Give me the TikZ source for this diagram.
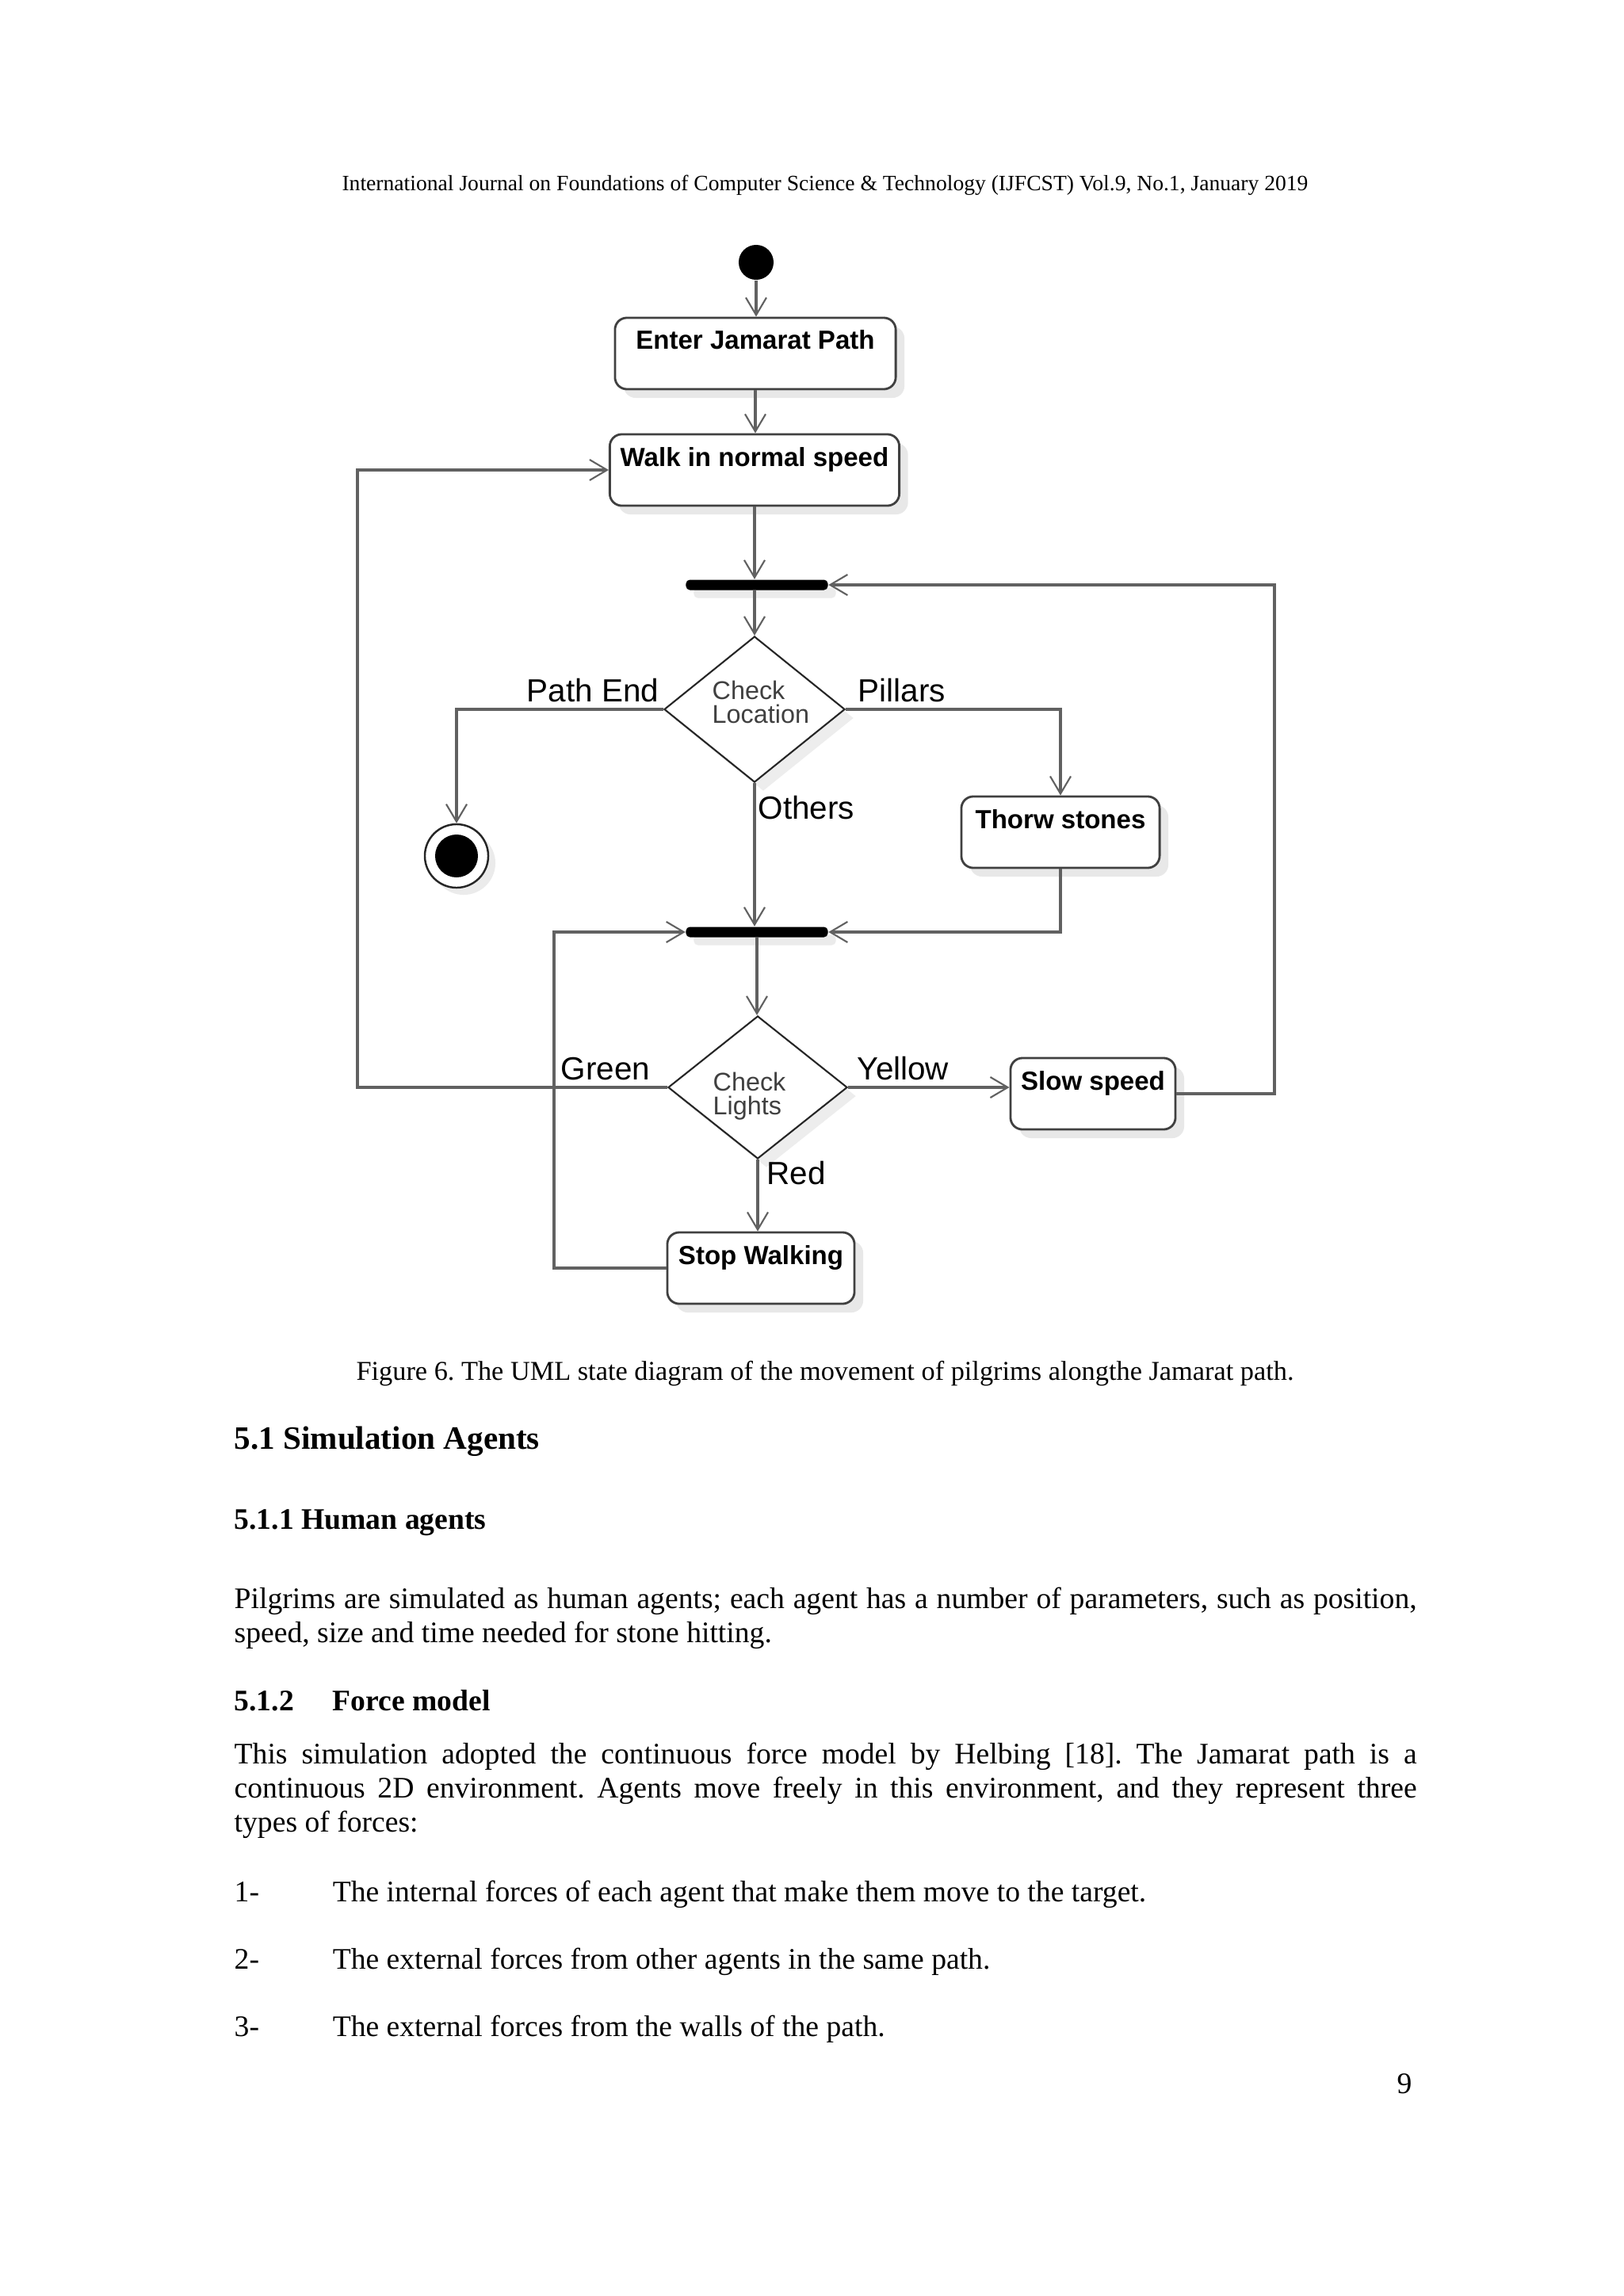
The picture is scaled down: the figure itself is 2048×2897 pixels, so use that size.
\documentclass[tikz,border=0pt]{standalone}
\usepackage{fontspec}
\setmainfont{Liberation Serif}
\newfontfamily\umlfont{Liberation Sans}
\usetikzlibrary{arrows.meta,shapes.geometric,shadows}
\frenchspacing

\begin{document}
\begin{tikzpicture}[x=0.01cm,y=-0.01cm,
    state/.style={rectangle,draw=black!75,line width=0.8pt,rounded corners=0.15cm,fill=white,
        drop shadow={shadow xshift=0.11cm,shadow yshift=-0.11cm,fill=black!9,opacity=1},
        inner sep=0pt,text height=0.40cm,text depth=0.50cm,
        font=\umlfont\bfseries\fontsize{9.4}{11}\selectfont},
    choice/.style={diamond,draw=black!85,line width=0.6pt,fill=white,inner sep=0pt,
        drop shadow={shadow xshift=0.11cm,shadow yshift=-0.11cm,fill=black!7,opacity=1}},
    bar/.style={rectangle,fill=black,rounded corners=0.05cm,inner sep=0pt,
        minimum width=1.79cm,minimum height=0.13cm,
        drop shadow={shadow xshift=0.1cm,shadow yshift=-0.1cm,fill=black!8,opacity=1}},
    flow/.style={draw=black!62,line width=0.9pt,
        -{Straight Barb[length=0.22cm,width=0.26cm,line width=0.6pt]}},
    guard/.style={font=\umlfont\fontsize{11.5}{13}\selectfont,anchor=base west,inner sep=0pt},
    choicetext/.style={font=\umlfont\fontsize{9.2}{8.6}\selectfont,text=black!75,
        align=left,anchor=north west,inner sep=0pt},
    body/.style={font=\fontsize{10.7}{12.24}\selectfont,inner sep=0pt}]

    % page
    \path[use as bounding box,fill=white] (0,0) rectangle (2048,2897);

    % states
    \draw (954,331)  node[circle,fill=black,minimum size=0.44cm,inner sep=0pt] (start) {};
    \draw (953,446)  node[state,minimum width=3.54cm] (enter) {Enter Jamarat Path};
    \draw (952,593)  node[state,minimum width=3.65cm] (walk) {Walk in normal speed};
    \draw (955,738)  node[bar] (barA) {};
    \draw (952,895)  node[choice,minimum width=2.28cm,minimum height=1.84cm] (locDia) {};
    \draw (576,1080) node[circle,draw=black!85,line width=0.7pt,fill=white,minimum size=0.80cm,inner sep=0pt,
        drop shadow={shadow xshift=0.09cm,shadow yshift=-0.09cm,fill=black!8,opacity=1},
        path picture={\fill[black] (path picture bounding box.center) circle (0.27cm);}] (final) {};
    \draw (1338,1050) node[state,minimum width=2.50cm] (throw) {Thorw stones};
    \draw (955,1176) node[bar] (barB) {};
    \draw (956,1372) node[choice,minimum width=2.26cm,minimum height=1.80cm] (lightDia) {};
    \draw (1379,1380) node[state,minimum width=2.08cm] (slow) {Slow speed};
    \draw (960,1600) node[state,minimum width=2.36cm] (stop) {Stop Walking};

    \node[choicetext] (locText) at (898,858) {Check\\Location};
    \node[choicetext] (lightText) at (899,1352) {Check\\Lights};

    \coordinate (greenTurn) at (451,1372);
    \coordinate (slowTurn) at (1608,1380);
    \coordinate (stopTurn) at (699,1600);

    % guards
    \node[guard] (lblEnd) at (664,885) {Path End};
    \node[guard] (lblPillars) at (1082,885) {Pillars};
    \node[guard] (lblOthers) at (956,1033) {Others};
    \node[guard] (lblGreen) at (707,1362) {Green};
    \node[guard] (lblYellow) at (1081,1362) {Yellow};
    \node[guard] (lblRed) at (967,1494) {Red};

    % transitions
    \draw[flow] (start.south) -- (start.south |- enter.north);
    \draw[flow] (enter.south) -- (enter.south |- walk.north);
    \draw[flow] (walk.south) -- (walk.south |- barA.north);
    \draw[flow] (locDia.north |- barA.south) -- (locDia.north);
    \draw[flow] (locDia.west) -| (final.north);
    \draw[flow] (locDia.east) -| (throw.north);
    \draw[flow] (locDia.south) -- (locDia.south |- barB.north);
    \draw[flow] (throw.south) |- (barB.east);
    \draw[flow] (barB.south) -- (barB.south |- lightDia.north);
    \draw[flow] (lightDia.west) -- (greenTurn) |- (walk.west);
    \draw[flow] (lightDia.east) -- (lightDia.east -| slow.west);
    \draw[flow] (slow.east) -- (slowTurn) |- (barA.east);
    \draw[flow] (lightDia.south) -- (lightDia.south |- stop.north);
    \draw[flow] (stop.west) -- (stopTurn) |- (barB.west);

    % text of the page
    \node[anchor=base,inner sep=0pt,font=\fontsize{7.85}{9}\selectfont] (header) at (1041,241)
        {International Journal on Foundations of Computer Science \& Technology (IJFCST) Vol.9, No.1, January 2019};
    \node[anchor=base,inner sep=0pt,font=\fontsize{9.76}{11}\selectfont] (caption) at (1041,1741)
        {Figure 6. The UML state diagram of the movement of pilgrims alongthe Jamarat path.};
    \node[anchor=base west,inner sep=0pt,font=\bfseries\fontsize{11.7}{14}\selectfont] (secA) at (295,1828)
        {5.1 Simulation Agents};
    \node[anchor=base west,inner sep=0pt,font=\bfseries\fontsize{10.7}{13}\selectfont] (secB) at (295,1929)
        {5.1.1 Human agents};
    \node[body,anchor=base west,text width=14.91cm,align=justify] (paraA) at (295,2029)
        {Pilgrims are simulated as human agents; each agent has a number of parameters, such as position,\linebreak
         speed, size and time needed for stone hitting.};
    \node[anchor=base west,inner sep=0pt,font=\bfseries\fontsize{10.7}{13}\selectfont] (secC) at (295,2158)
        {\makebox[1.24cm][l]{5.1.2}Force model};
    \node[body,anchor=base west,text width=14.91cm,align=justify] (paraB) at (295,2225)
        {This simulation adopted the continuous force model by Helbing [18]. The Jamarat path is a\linebreak
         continuous 2D environment. Agents move freely in this environment, and they represent three\linebreak
         types of forces:};
    \node[body,anchor=base west] (itemA) at (295,2399)
        {\makebox[1.24cm][l]{1-}The internal forces of each agent that make them move to the target.};
    \node[body,anchor=base west] (itemB) at (295,2484)
        {\makebox[1.24cm][l]{2-}The external forces from other agents in the same path.};
    \node[body,anchor=base west] (itemC) at (295,2569)
        {\makebox[1.24cm][l]{3-}The external forces from the walls of the path.};
    \node[body,anchor=base east] (pageNo) at (1782,2641) {9};
\end{tikzpicture}
\end{document}
